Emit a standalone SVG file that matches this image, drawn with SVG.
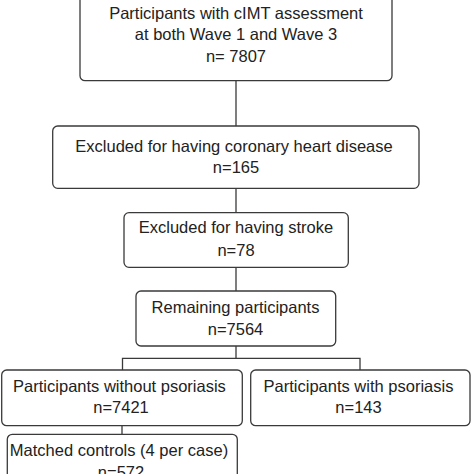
<svg xmlns="http://www.w3.org/2000/svg" width="474" height="474" viewBox="0 0 474 474">
<style>
.box{fill:#fff;stroke:#3a3a3a;stroke-width:1.3}
.t{font-family:"Liberation Sans",Arial,sans-serif;font-size:16.5px;fill:#222;text-anchor:middle}
.c{fill:none;stroke:#3a3a3a;stroke-width:1.3}
</style>
<rect width="474" height="474" fill="#fff"/>
<g id="connectors">
<path class="c" d="M236 80.7V126"/>
<path class="c" d="M236 188.3V212.7"/>
<path class="c" d="M236 267.3V291"/>
<path class="c" d="M236 346V358.3M122.5 370V358.3H360V370"/>
<path class="c" d="M122 425.7V434.3"/>
</g>
<g id="n1">
<rect class="box" x="80" y="-10" width="312" height="90.7" rx="5"/>
<text class="t" x="236" y="18.5">Participants with cIMT assessment</text>
<text class="t" x="236" y="39.5">at both Wave 1 and Wave 3</text>
<text class="t" x="236" y="61.5">n= 7807</text>
</g>
<g id="n2">
<rect class="box" x="52.7" y="126" width="366.3" height="62.3" rx="5"/>
<text class="t" x="234" y="151.7">Excluded for having coronary heart disease</text>
<text class="t" x="236" y="173.3">n=165</text>
</g>
<g id="n3">
<rect class="box" x="124" y="212.7" width="224.3" height="54.6" rx="5"/>
<text class="t" x="236" y="233.3">Excluded for having stroke</text>
<text class="t" x="236" y="255.7">n=78</text>
</g>
<g id="n4">
<rect class="box" x="136" y="291" width="199.7" height="55" rx="5"/>
<text class="t" x="235.5" y="313.3">Remaining participants</text>
<text class="t" x="235.5" y="335">n=7564</text>
</g>
<g id="n5">
<rect class="box" x="1.7" y="370" width="240.6" height="55.7" rx="5"/>
<text class="t" x="119.5" y="391.7">Participants without psoriasis</text>
<text class="t" x="121" y="413.3">n=7421</text>
</g>
<g id="n6">
<rect class="box" x="250.7" y="370" width="219.3" height="55.7" rx="5"/>
<text class="t" x="358.5" y="391.7">Participants with psoriasis</text>
<text class="t" x="358.5" y="413.3">n=143</text>
</g>
<g id="n7">
<rect class="box" x="7.3" y="434.3" width="230" height="60" rx="5"/>
<text class="t" x="119" y="456">Matched controls (4 per case)</text>
<text class="t" x="121" y="477.5">n=572</text>
</g>
</svg>
